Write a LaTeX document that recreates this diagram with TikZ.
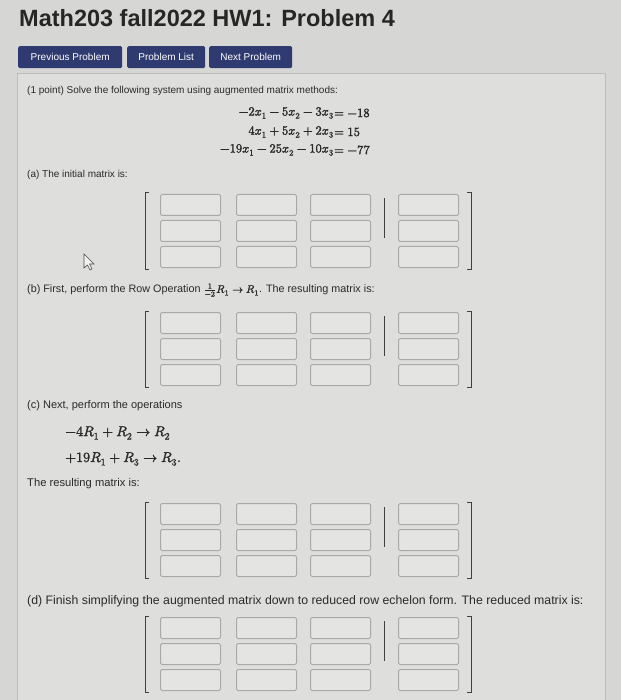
\documentclass[tikz,border=0pt]{standalone}
\usepackage{fontspec}
\setmainfont{Liberation Sans}
\usepackage{amsmath}
\usepackage{unicode-math}
\setmathfont{Latin Modern Math}
\setmathfont{Latin Modern Math}[version=bold,FakeBold=2]
\definecolor{pagebg}{HTML}{D6D6D4}
\definecolor{panelbg}{HTML}{DEDEDC}
\definecolor{panelbd}{HTML}{BDBDBB}
\definecolor{btn}{HTML}{2E3A70}
\definecolor{boxbg}{HTML}{E4E4E2}
\definecolor{boxbd}{HTML}{A9A9A7}
\definecolor{txt}{HTML}{2A2A2A}
\tikzset{
  btnbox/.style={fill=btn,text=white,rounded corners=1.5pt,font=\fontsize{10}{12}\selectfont,inner sep=0pt,anchor=north west,minimum height=22pt},
  body/.style={anchor=west,inner sep=0pt,text=txt,font=\fontsize{10}{12}\selectfont},
  cell/.style={draw=boxbd,fill=boxbg,rounded corners=1.5pt,line width=1pt,minimum width=60pt,minimum height=21pt,inner sep=0pt,anchor=north west},
  brk/.style={draw=black!75,line width=1pt},
  sep/.style={draw=black!75,line width=1pt},
  eq/.style={inner sep=0pt,text=txt,font=\fontsize{12.5}{14}\selectfont\mathversion{bold}}
}
\newcommand{\augmat}[2]{% name, top y
  \foreach \cx [count=\ci] in {160,236,310,398}{
    \foreach \ry [count=\ri] in {0,26,52}{
      \node[cell] (#1-\ri-\ci) at (\cx,#2+1+\ry) {};
    }
  }
  \coordinate (#1-tl) at (145,#2);
  \coordinate (#1-bl) at (145,#2+76);
  \coordinate (#1-tr) at (471,#2);
  \coordinate (#1-br) at (471,#2+76);
  \draw[brk] ([xshift=4pt]#1-tl) -- (#1-tl) -- (#1-bl) -- ([xshift=4pt]#1-bl);
  \draw[brk] ([xshift=-4pt]#1-tr) -- (#1-tr) -- (#1-br) -- ([xshift=-4pt]#1-br);
  \coordinate (#1-s1) at (384,#2+5);
  \coordinate (#1-s2) at (384,#2+45);
  \draw[sep] (#1-s1) -- (#1-s2);
}
\begin{document}
\begin{tikzpicture}[x=1pt,y=-1pt]
\useasboundingbox (0,0) rectangle (621,700);
\fill[pagebg] (0,0) rectangle (621,700);
\node[anchor=west,inner sep=0pt,text=black!85,font=\fontsize{23.5}{28}\selectfont\bfseries] (title) at (19,18) {Math203 fall2022 HW1: Problem 4};
\node[btnbox,minimum width=104pt] (prev) at (18,46) {Previous Problem};
\node[btnbox,minimum width=78pt] (list) at (127,46) {Problem List};
\node[btnbox,minimum width=83pt] (next) at (209,46) {Next Problem};
\draw[panelbd,fill=panelbg,line width=0.8pt] (17,73) rectangle (605,705);
\node[body] (intro) at (27,91) {(1 point) Solve the following system using augmented matrix methods:};
\node[eq,anchor=east] (e1l) at (334,113) {$-2x_1-5x_2-3x_3$};
\node[eq,anchor=west] (e1r) at (334,113) {$=-18$};
\node[eq,anchor=east] (e2l) at (334,132) {$4x_1+5x_2+2x_3$};
\node[eq,anchor=west] (e2r) at (334,132) {$=15$};
\node[eq,anchor=east] (e3l) at (334,150) {$-19x_1-25x_2-10x_3$};
\node[eq,anchor=west] (e3r) at (334,150) {$=-77$};
\node[body] (pa) at (27,175) {(a) The initial matrix is:};
\augmat{ma}{193}
% mouse cursor
\draw[black!70,line width=0.6pt,fill=white!90!gray] (84,254) -- (84,268) -- (87.5,265) -- (90,270) -- (92,269) -- (89.5,264) -- (94,264) -- cycle;
\node[body,font=\fontsize{10.8}{13}\selectfont] (pb) at (27,290) {(b) First, perform the Row Operation {\mathversion{bold}$\frac{1}{-2}R_1\to R_1$}. The resulting matrix is:};
\augmat{mb}{311}
\node[body,font=\fontsize{11}{13}\selectfont] (pc) at (27,406) {(c) Next, perform the operations};
\node[eq,anchor=west,font=\fontsize{14}{16}\selectfont\mathversion{bold}] (op1) at (65,433) {$-4R_1+R_2\to R_2$};
\node[eq,anchor=west,font=\fontsize{14}{16}\selectfont\mathversion{bold}] (op2) at (65,459) {$+19R_1+R_3\to R_3.$};
\node[body,font=\fontsize{11.2}{13}\selectfont] (pr) at (27,484) {The resulting matrix is:};
\augmat{mc}{502}
\node[body,font=\fontsize{12.3}{14}\selectfont] (pd) at (27,601) {(d) Finish simplifying the augmented matrix down to reduced row echelon form. The reduced matrix is:};
\augmat{md}{616}
\end{tikzpicture}
\end{document}
